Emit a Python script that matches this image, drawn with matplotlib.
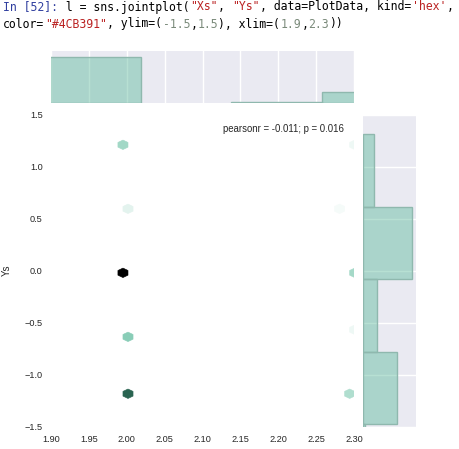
import colorsys
import numpy as np
import matplotlib
matplotlib.use("Agg")
import matplotlib.pyplot as plt
from matplotlib.colors import LinearSegmentedColormap, Normalize, to_rgb

# ---------------- data ----------------
# hexbin cells (center estimates) and counts
hex_x = [1.995, 2.002, 1.995, 2.002, 2.002, 2.300, 2.281, 2.300, 2.300, 2.295]
hex_y = [1.213, 0.597, -0.020, -0.637, -1.185, 1.213, 0.597, -0.020, -0.568, -1.185]
hex_counts = [26, 8, 100, 33, 72, 5, 3, 25, 5, 22]

# marginal histograms
top_edges = [1.899, 2.019, 2.138, 2.258, 2.377]
top_counts = [239, 0, 5, 60]
right_edges = [-2.18, -1.48, -0.786, -0.082, 0.613, 1.317]
right_counts = [6, 94, 38, 136, 31]

xticks = [1.90, 1.95, 2.00, 2.05, 2.10, 2.15, 2.20, 2.25, 2.30]
yticks = [-1.5, -1.0, -0.5, 0.0, 0.5, 1.0, 1.5]
xlim = (1.9, 2.3)
ylim = (-1.5, 1.5)
stat_text = "pearsonr = -0.011; p = 0.016"
x_label = "Xs"
y_label = "Ys"

code_line1 = [("In [52]:", "#303F9F"), (" l = sns.jointplot(", "#000000"), ('"Xs"', "#BA2121"),
              (", ", "#000000"), ('"Ys"', "#BA2121"), (", data=PlotData, kind=", "#000000"),
              ("'hex'", "#BA2121"), (",", "#000000")]
code_line2 = [("color=", "#000000"), ('"#4CB391"', "#BA2121"), (", ylim=(", "#000000"),
              ("-1.5", "#7a8a7a"), (",", "#000000"), ("1.5", "#7a8a7a"), ("), xlim=(", "#000000"),
              ("1.9", "#7a8a7a"), (",", "#000000"), ("2.3", "#7a8a7a"), ("))", "#000000")]

# ---------------- style ----------------
color = "#4CB391"
W, H = 459, 449
DPI = 100
plt.rcParams["font.family"] = ["Liberation Sans", "DejaVu Sans"]
text_col = "#262626"
bg = "#EAEAF2"
bar_face = to_rgb(color) + (0.4,)
bar_edge = "#8fb8ae"

fig = plt.figure(figsize=(W / DPI, H / DPI), dpi=DPI)
fig.patch.set_facecolor("white")

def frac(x0, y0, x1, y1):
    return [x0 / W, 1 - y1 / H, (x1 - x0) / W, (y1 - y0) / H]

ax_joint = fig.add_axes(frac(51, 115, 354, 426.5))
ax_top = fig.add_axes(frac(51, 50.7, 354, 103.3))
ax_right = fig.add_axes(frac(363.3, 115, 416, 426.5))

# colormap as in seaborn jointplot hex
h, l, s = colorsys.rgb_to_hls(*to_rgb(color))
cols = [colorsys.hls_to_rgb(h, lv, s) for lv in np.linspace(1, 0, 12)]
cmap = LinearSegmentedColormap.from_list("hexmap", cols)

sx = 0.0133
sy = 0.137
ext = (1.995 - 8 * sx, 1.995 + 23 * sx, -0.020 - 11 * sy, -0.020 + 11 * sy)
ax_joint.hexbin(hex_x, hex_y, C=hex_counts, reduce_C_function=np.sum,
                gridsize=(31, 22), extent=ext, cmap=cmap,
                norm=Normalize(vmin=0, vmax=max(hex_counts)), linewidths=0.4,
                edgecolors="face")
ax_joint.set_facecolor("white")
ax_joint.set_xlim(*xlim)
ax_joint.set_ylim(*ylim)
ax_joint.set_xticks(xticks)
ax_joint.set_yticks(yticks)
ax_joint.set_xticklabels([f"{v:.2f}" for v in xticks])
ax_joint.set_yticklabels([f"{v:.1f}".replace("-", "\u2212") for v in yticks])
ax_joint.tick_params(length=0, labelsize=6.6, colors=text_col, pad=6)
for sp in ax_joint.spines.values():
    sp.set_visible(False)
ax_joint.set_ylabel(y_label, fontsize=7, color=text_col)
ax_joint.yaxis.set_label_coords(-0.129, 0.5)
ax_joint.text(0.967, 0.955, stat_text, transform=ax_joint.transAxes, ha="right", va="center",
              fontsize=6.9, color=text_col)

# top marginal
te = np.array(top_edges)
tc = np.array(top_counts)
m = tc > 0
ax_top.bar(te[:-1][m], tc[m], width=np.diff(te)[m], align="edge", facecolor=bar_face,
           edgecolor=bar_edge, linewidth=1, zorder=2)
ax_top.set_facecolor(bg)
ax_top.set_xlim(*xlim)
ax_top.set_ylim(0, max(top_counts) * 1.13)
ax_top.set_xticks(xticks)
ax_top.set_yticks([])
ax_top.tick_params(length=0, labelbottom=False, labelleft=False)
ax_top.grid(axis="x", color="white", linewidth=1, zorder=1)
ax_top.set_axisbelow(True)
for sp in ax_top.spines.values():
    sp.set_visible(False)

# right marginal
re_ = np.array(right_edges)
rc = np.array(right_counts)
m = rc > 0
ax_right.barh(re_[:-1][m], rc[m], height=np.diff(re_)[m], align="edge", facecolor=bar_face,
              edgecolor=bar_edge, linewidth=1, zorder=2)
ax_right.set_facecolor(bg)
ax_right.set_ylim(*ylim)
ax_right.set_xlim(0, max(right_counts) * 1.09)
ax_right.set_yticks(yticks)
ax_right.set_xticks([])
ax_right.tick_params(length=0, labelbottom=False, labelleft=False)
ax_right.grid(axis="y", color="white", linewidth=1, zorder=1)
ax_right.set_axisbelow(True)
for sp in ax_right.spines.values():
    sp.set_visible(False)

# notebook code text
cw = 6.94  # px per char
for line, ypix in ((code_line1, 7), (code_line2, 24)):
    pos = 0
    for seg, c in line:
        fig.text((3 + pos * cw) / W, 1 - ypix / H, seg, family="DejaVu Sans Mono", fontsize=8.3,
                 color=c, ha="left", va="center")
        pos += len(seg)

fig.savefig("out.png", dpi=DPI)
